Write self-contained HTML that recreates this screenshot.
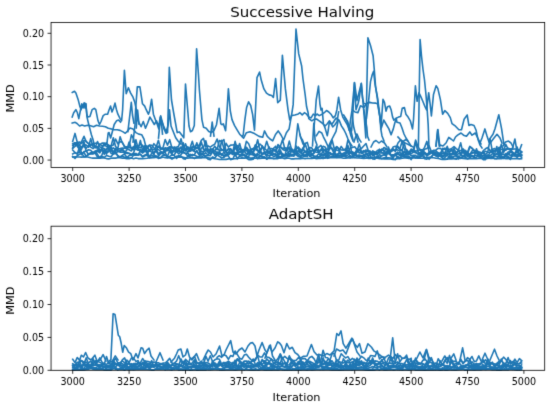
<!DOCTYPE html>
<html><head><meta charset="utf-8"><title>MMD plots</title>
<style>html,body{margin:0;padding:0;background:#fff;overflow:hidden}svg{display:block}
.ln{fill:none;stroke:#1f77b4;stroke-width:1.6;stroke-linejoin:round;stroke-linecap:square}</style></head>
<body><svg width="550" height="407" viewBox="0 0 550 407" font-family="DejaVu Sans, Liberation Sans, sans-serif"><defs><filter id="bl" x="0" y="0" width="550" height="407" filterUnits="userSpaceOnUse" color-interpolation-filters="sRGB"><feConvolveMatrix order="3" kernelMatrix="0.01134 0.08382 0.01134 0.08382 0.61935 0.08382 0.01134 0.08382 0.01134" divisor="1" edgeMode="duplicate"/></filter></defs><g filter="url(#bl)"><rect width="550" height="407" fill="#fff"/><polyline class="ln" points="72.3,92.5 74.5,91.3 75.9,93.0 78.1,99.4 80.0,106.8 81.1,109.7 81.8,103.8 83.0,108.0 84.0,103.1 85.0,108.0 85.9,103.8 87.0,117.1 88.4,123.0 89.9,128.9 91.4,134.8 92.9,139.2 94.3,145.1 96.0,148.0 98.0,147.0 100.0,150.0"/>
<polyline class="ln" points="72.2,117.1 73.7,112.7 75.9,109.7 77.3,112.5 78.8,118.6 80.5,110.0 81.8,104.5 83.3,107.0 84.5,103.0 85.8,104.0 86.8,114.0 87.7,117.1 89.9,116.4 92.1,109.7 94.3,108.3 95.8,109.7 98.0,120.8 99.5,124.5 101.0,121.5 103.2,115.6 105.4,114.2 107.6,114.2 109.1,109.7 110.6,106.1 112.0,112.0 113.5,108.3 115.0,103.1 116.5,109.7 117.9,114.2 120.1,118.6 121.6,120.8 122.6,110.0 124.4,70.4 126.2,93.8 128.4,87.7 130.5,92.9 133.0,97.2 134.8,102.3 136.2,109.0 137.4,118.6 138.8,122.3 141.1,126.7 143.3,121.5 145.5,128.2 147.7,123.0 149.9,117.1 152.0,120.5 154.3,124.5 156.5,120.8 158.8,126.7 160.2,117.1 162.0,122.0 163.9,126.7 166.1,131.9 168.3,124.5 169.5,109.7 171.0,126.0 173.0,131.0 175.7,137.8 178.0,141.0 181.0,144.0"/>
<polyline class="ln" points="72.2,123.0 75.2,122.3 77.0,123.5 79.6,126.0 82.0,125.0 84.7,126.0 87.7,125.2 90.5,125.8 93.6,126.7 96.5,125.2 99.5,126.0 102.5,126.3 105.4,126.7 108.3,128.2 111.3,128.9 114.2,129.7 117.2,129.7 120.1,130.4 123.1,131.9 125.3,133.3 127.5,131.1 130.0,128.0 133.0,128.9 135.9,132.6 138.8,134.1 141.8,134.8 144.0,139.2 145.5,145.1 147.5,147.0"/>
<polyline class="ln" points="104.0,146.0 106.9,143.7 108.2,133.0 109.1,132.6 110.6,138.0 112.0,133.0 114.2,124.5 116.5,120.8 118.7,120.1 120.5,122.0"/>
<polyline class="ln" points="133.0,142.0 135.0,125.0 135.6,109.2 137.3,86.9 139.9,86.9 142.5,103.8 144.7,106.1 146.2,109.7 148.4,114.2 149.6,111.0 151.6,99.2 153.4,114.2 155.8,120.8 157.3,124.5 158.8,128.9 161.0,117.1 162.4,122.3 163.9,128.9 166.1,133.3 167.6,132.6 169.3,67.2 171.5,100.0 173.5,112.0 175.3,122.0 177.2,132.6 179.4,131.9 181.6,134.8 183.8,137.8 185.5,84.0 187.7,110.0 189.0,126.0 190.5,131.8 192.4,130.5 194.3,125.5 196.6,48.8 198.5,75.0 199.4,90.0 201.9,119.6 203.6,127.3 206.2,128.2 208.8,131.6 211.3,132.5 213.9,130.7 216.5,124.7 219.1,108.4 220.8,123.9 222.2,124.7 223.4,123.9 225.6,130.7 226.8,114.4 228.4,88.8 230.3,111.0 232.0,119.6 234.6,125.6 237.1,129.9 239.7,134.2 242.3,136.8 243.2,135.0 244.9,119.6 246.6,107.5 248.6,101.8 250.7,105.5 252.6,114.4 254.5,130.2 257.0,77.7 259.6,72.1 261.3,80.3 263.9,88.9 266.5,93.2 269.1,94.9 271.7,95.5 273.4,97.5 275.6,78.6 277.7,102.7 280.3,100.1 282.4,55.4 285.4,88.9 288.0,109.6 289.7,119.9 291.4,116.4 293.2,104.4 296.0,29.0 298.7,53.9 301.6,65.7 303.0,79.0 305.2,95.0 306.6,106.8 308.1,112.7 308.8,118.6 311.8,120.8 314.0,119.3 316.5,119.0 319.2,120.8 322.1,123.0 325.1,126.0 327.3,123.8 329.5,120.8 331.7,124.5 333.5,122.0 336.0,118.0 339.3,120.5 341.4,125.9 343.6,129.2 345.8,133.5 348.0,139.0 350.0,143.0 352.0,146.0"/>
<polyline class="ln" points="242.3,136.8 243.6,138.2 246.4,132.7 250.0,131.8 254.5,133.6 259.1,136.4 262.7,137.3 264.5,130.9 267.3,136.4 270.0,139.0 272.7,140.9 275.5,134.5 278.2,130.9 281.0,135.0 283.6,140.0 286.4,132.7 289.1,129.1 290.3,122.0 291.4,115.6 294.9,115.0 298.3,113.9 300.0,112.7 302.2,114.9 304.4,112.7 306.6,114.2 308.8,117.1 311.1,117.9 313.3,114.2 315.5,115.6 317.0,114.0 319.2,115.6 322.1,114.2 324.3,112.7 326.5,110.5 328.8,112.0 331.0,114.2 333.2,117.9 335.4,115.6 336.9,109.7 338.6,97.2 340.6,109.7 342.8,117.1 345.0,120.8 347.2,124.5 349.4,130.4 351.6,131.1 353.1,109.7 354.4,82.7 356.0,109.7 358.0,103.8 359.0,100.0 361.3,83.6 362.5,98.0 363.8,103.5 366.8,103.8 369.7,102.4 372.5,103.0 375.6,103.1 377.6,103.9 379.3,112.0 381.0,127.0 383.0,99.4 384.5,102.4 386.0,111.2 387.4,106.8 389.7,106.1 391.1,109.7 392.6,117.1 393.9,120.2 395.6,118.5 398.5,117.1 400.7,116.4 402.2,108.3 404.4,107.5 405.9,114.2 408.1,117.1 410.3,120.8 412.5,128.9 413.5,120.0 415.4,85.8 417.1,101.3 418.9,92.7 420.6,96.1 422.8,101.3 424.9,106.4 426.6,109.9 428.7,92.7 430.0,103.0 431.4,115.9 433.5,94.4 436.1,85.8 437.8,88.4 440.4,99.6 442.6,114.2 444.8,110.7 447.7,113.3 450.3,117.6 452.0,123.6 455.5,126.2 458.9,129.7 461.5,129.7 464.1,119.3 467.2,115.0 468.9,125.4 471.0,124.5 474.0,125.5 476.1,130.3 478.1,139.7 480.0,145.0 482.0,148.0"/>
<polyline class="ln" points="314.0,128.0 315.5,110.0 316.2,100.0 318.5,86.1 319.9,103.8 321.0,110.0 322.1,108.3 323.4,123.7 325.1,128.1 327.3,135.7 328.3,130.0 329.4,121.5 331.1,123.7 332.7,127.0 334.9,124.8 337.1,121.5 338.6,112.0"/>
<polyline class="ln" points="316.4,135.7 319.1,131.4 321.8,133.0 323.4,136.8 325.6,141.2 327.8,146.0"/>
<polyline class="ln" points="327.8,148.0 331.0,141.0 336.0,131.4 338.2,120.5"/>
<polyline class="ln" points="343.6,115.0 346.0,119.0 348.0,123.7 350.2,128.1 351.5,133.0 353.0,140.0"/>
<polyline class="ln" points="352.3,115.0 353.5,126.0 355.6,134.6 357.0,134.0 359.0,139.0 361.0,142.0"/>
<polyline class="ln" points="300.0,134.6 301.6,140.1 303.0,144.0 305.0,146.0"/>
<polyline class="ln" points="345.0,117.8 347.6,121.2 349.3,129.8 351.0,136.0 353.0,141.0"/>
<polyline class="ln" points="352.7,110.0 355.0,112.0 357.9,112.6 360.5,105.8 363.9,107.5 366.0,104.0 369.0,102.3"/>
<polyline class="ln" points="354.0,142.0 356.2,135.0 358.0,142.0"/>
<polyline class="ln" points="349.3,129.8 350.5,120.0 351.9,110.9 354.5,82.6 357.0,100.6 358.7,93.7 361.3,83.4 363.0,102.3 364.5,120.0 365.8,138.0 367.9,37.7 370.5,45.5 373.1,55.8 374.3,69.6 375.6,86.8 377.4,98.8 378.6,109.7 380.1,118.6 380.8,128.9 382.0,136.0 384.0,141.0"/>
<polyline class="ln" points="363.8,109.7 365.3,118.6 366.8,127.4 367.5,136.3 369.0,140.0"/>
<polyline class="ln" points="366.5,118.0 368.8,98.8 370.5,81.6 372.2,74.7 373.6,71.3 375.0,84.1 377.6,97.8 379.3,111.6 381.0,125.4"/>
<polyline class="ln" points="380.8,128.9 381.5,127.4 383.8,120.1 386.0,124.0 388.9,128.9 391.1,134.8 393.3,128.9 394.8,123.0 396.3,118.6 397.0,122.3 400.0,123.0 402.0,128.0 404.0,134.0 406.0,138.0 408.0,141.0"/>
<polyline class="ln" points="418.4,147.0 419.1,100.0 420.1,39.5 421.5,56.0 423.0,69.5 424.5,80.0 426.0,95.0 427.2,110.0 428.2,125.0 429.0,148.0"/>
<polyline class="ln" points="436.0,146.0 437.6,129.8 439.2,146.0"/>
<polyline class="ln" points="371.0,147.0 373.6,142.0 376.0,140.5 379.0,143.0 381.5,141.0 384.5,143.0 387.0,147.0"/>
<polyline class="ln" points="396.0,148.0 398.0,143.0 400.5,140.0 403.0,141.5 406.0,139.5 408.5,142.0 411.0,146.0"/>
<polyline class="ln" points="440.0,145.0 443.0,146.0 446.0,143.0 448.8,137.4 451.0,139.0 453.5,141.0 455.5,137.0 457.6,135.2 461.0,133.0 463.5,135.2 466.5,136.3 469.8,131.9 472.0,135.2 475.3,133.0 478.6,140.0 481.0,144.0"/>
<polyline class="ln" points="398.0,137.0 400.0,139.1 402.5,141.6 405.1,142.9 410.2,145.5 413.0,147.0"/>
<polyline class="ln" points="436.0,146.0 437.9,129.5 439.8,146.0"/>
<polyline class="ln" points="489.0,140.0 493.0,134.3 495.0,128.8 498.8,114.7 501.6,128.8 503.8,143.8 506.0,146.0"/>
<polyline class="ln" points="491.0,142.0 494.0,138.0 497.0,134.3 500.0,138.0 502.0,143.0"/>
<polyline class="ln" points="480.0,143.0 482.0,138.0 484.9,128.9 487.0,136.0 489.0,142.0"/>
<polyline class="ln" points="503.0,146.0 505.5,142.0 508.5,141.1 511.0,143.0 513.0,147.0"/>
<polyline class="ln" points="127.9,131.6 129.5,118.0 131.3,102.3 132.5,115.0 133.9,123.0"/>
<polyline class="ln" points="136.3,128.0 137.6,110.0 139.0,124.0"/>
<polyline class="ln" points="158.5,138.0 160.7,115.9 162.5,134.0"/>
<polyline class="ln" points="210.5,136.0 212.2,122.1 214.0,136.0"/>
<polyline class="ln" points="295.5,146.5 297.8,123.9 300.5,137.2 302.5,139.9 304.0,144.0"/>
<polyline class="ln" points="312.5,146.0 313.8,123.3 315.1,139.9 317.0,145.0"/>
<polyline class="ln" points="72.7,157.0 75.0,156.7 77.2,156.9 79.5,157.0 81.7,157.1 84.0,156.9 86.2,156.8 88.5,157.2 90.7,157.7 93.0,158.1 95.3,158.1 97.5,158.1 99.8,158.1 102.0,157.9 104.3,158.0 106.5,158.6 108.8,158.9 111.1,158.3 113.3,158.1 115.6,158.1 117.8,157.7 120.1,157.8 122.3,158.1 124.6,158.1 126.8,158.6 129.1,158.8 131.4,158.0 133.6,158.7 135.9,158.0 138.1,158.6 140.4,158.5 142.6,158.6 144.9,158.5 147.1,158.2 149.4,157.7 151.7,157.5 153.9,157.7 156.2,157.2 158.4,157.5 160.7,157.6 162.9,157.1 165.2,157.8 167.5,157.9 169.7,157.8 172.0,157.7 174.2,157.5 176.5,157.0 178.7,157.1 181.0,157.0 183.2,157.4 185.5,157.8 187.8,158.2 190.0,157.8 192.3,158.0 194.5,158.0 196.8,157.7 199.0,157.9 201.3,157.9 203.5,157.5 205.8,157.6 208.1,157.9 210.3,158.2 212.6,158.3 214.8,158.8 217.1,159.0 219.3,159.5 221.6,159.5 223.9,159.4 226.1,159.4 228.4,158.9 230.6,158.7 232.9,158.7 235.1,158.7 237.4,158.4 239.6,158.2 241.9,157.9 244.2,158.1 246.4,157.9 248.7,157.9 250.9,158.1 253.2,157.9 255.4,158.2 257.7,158.4 259.9,158.4 262.2,158.3 264.5,158.1 266.7,158.1 269.0,158.4 271.2,158.3 273.5,158.6 275.7,158.8 278.0,158.6 280.3,157.8 282.5,157.9 284.8,158.7 287.0,158.3 289.3,158.3 291.5,158.9 293.8,158.9 296.0,158.5 298.3,158.7 300.6,158.8 302.8,158.3 305.1,158.6 307.3,158.2 309.6,158.5 311.8,158.4 314.1,158.1 316.3,158.8 318.6,158.4 320.9,158.4 323.1,157.8 325.4,158.0 327.6,157.9 329.9,157.8 332.1,157.4 334.4,157.6 336.7,157.8 338.9,157.7 341.2,157.8 343.4,158.2 345.7,158.1 347.9,158.0 350.2,158.0 352.4,157.5 354.7,157.8 357.0,158.0 359.2,157.9 361.5,158.2 363.7,158.4 366.0,158.2 368.2,157.9 370.5,157.9 372.7,157.9 375.0,157.9 377.3,158.3 379.5,158.6 381.8,158.5 384.0,158.9 386.3,158.6 388.5,159.0 390.8,159.0 393.1,159.4 395.3,159.0 397.6,158.4 399.8,158.8 402.1,158.3 404.3,157.9 406.6,157.9 408.8,158.5 411.1,158.1 413.4,158.0 415.6,158.0 417.9,158.2 420.1,158.1 422.4,158.3 424.6,157.9 426.9,157.6 429.1,157.4 431.4,157.7 433.7,157.8 435.9,158.3 438.2,158.4 440.4,159.1 442.7,159.5 444.9,159.5 447.2,159.3 449.5,158.7 451.7,158.9 454.0,158.6 456.2,158.2 458.5,158.1 460.7,158.2 463.0,158.4 465.2,158.6 467.5,158.9 469.8,158.7 472.0,158.7 474.3,158.4 476.5,158.6 478.8,158.4 481.0,158.2 483.3,158.4 485.5,158.2 487.8,158.4 490.1,157.9 492.3,158.2 494.6,158.4 496.8,158.7 499.1,158.6 501.3,158.8 503.6,158.3 505.9,158.7 508.1,158.6 510.4,158.4 512.6,158.8 514.9,158.5 517.1,158.8 519.4,158.9 521.6,158.8"/>
<polyline class="ln" points="72.7,156.5 75.0,158.5 77.2,155.8 79.5,154.4 81.7,153.2 84.0,156.9 86.2,156.4 88.5,154.4 90.7,153.1 93.0,153.5 95.3,153.4 97.5,157.0 99.8,157.1 102.0,156.2 104.3,157.4 106.5,155.5 108.8,156.3 111.1,156.7 113.3,153.7 115.6,153.6 117.8,155.4 120.1,157.1 122.3,156.1 124.6,157.2 126.8,157.3 129.1,158.0 131.4,158.1 133.6,155.1 135.9,155.2 138.1,154.2 140.4,154.2 142.6,157.0 144.9,155.8 147.1,155.3 149.4,157.9 151.7,157.5 153.9,156.5 156.2,156.0 158.4,158.5 160.7,157.7 162.9,155.0 165.2,155.4 167.5,156.1 169.7,157.6 172.0,159.1 174.2,157.9 176.5,156.2 178.7,155.8 181.0,156.0 183.2,158.6 185.5,159.1 187.8,156.3 190.0,157.2 192.3,157.3 194.5,158.6 196.8,157.6 199.0,156.9 201.3,157.1 203.5,155.6 205.8,156.8 208.1,159.2 210.3,159.7 212.6,156.9 214.8,158.0 217.1,154.9 219.3,156.2 221.6,158.1 223.9,157.5 226.1,155.5 228.4,156.1 230.6,159.7 232.9,159.1 235.1,153.7 237.4,158.8 239.6,156.1 241.9,155.9 244.2,155.3 246.4,158.0 248.7,159.7 250.9,159.7 253.2,159.2 255.4,155.7 257.7,158.7 259.9,156.7 262.2,156.5 264.5,156.8 266.7,159.1 269.0,157.7 271.2,158.0 273.5,158.4 275.7,158.3 278.0,157.0 280.3,158.0 282.5,156.5 284.8,157.0 287.0,157.1 289.3,156.3 291.5,155.8 293.8,156.2 296.0,152.9 298.3,153.4 300.6,155.5 302.8,154.9 305.1,156.5 307.3,153.6 309.6,155.6 311.8,157.6 314.1,157.2 316.3,157.0 318.6,156.9 320.9,156.8 323.1,158.6 325.4,157.7 327.6,156.4 329.9,157.3 332.1,156.8 334.4,154.5 336.7,157.4 338.9,156.9 341.2,157.1 343.4,156.2 345.7,153.5 347.9,150.1 350.2,157.7 352.4,156.9 354.7,157.4 357.0,156.4 359.2,156.2 361.5,156.2 363.7,157.4 366.0,156.5 368.2,158.5 370.5,158.5 372.7,157.2 375.0,157.4 377.3,156.6 379.5,157.4 381.8,158.7 384.0,157.8 386.3,157.8 388.5,157.7 390.8,158.0 393.1,159.3 395.3,159.7 397.6,156.4 399.8,158.4 402.1,156.5 404.3,156.5 406.6,157.7 408.8,157.7 411.1,157.4 413.4,157.0 415.6,157.4 417.9,157.5 420.1,157.1 422.4,155.6 424.6,158.7 426.9,159.2 429.1,157.7 431.4,157.0 433.7,153.8 435.9,155.8 438.2,155.6 440.4,156.1 442.7,158.4 444.9,159.0 447.2,158.9 449.5,156.3 451.7,156.2 454.0,158.5 456.2,159.2 458.5,158.3 460.7,158.5 463.0,156.5 465.2,157.2 467.5,158.7 469.8,157.5 472.0,156.2 474.3,157.5 476.5,157.2 478.8,155.4 481.0,157.7 483.3,159.7 485.5,159.7 487.8,155.5 490.1,157.7 492.3,157.3 494.6,158.7 496.8,158.6 499.1,154.8 501.3,156.8 503.6,158.3 505.9,155.5 508.1,156.3 510.4,158.3 512.6,155.9 514.9,156.0 517.1,156.3 519.4,155.8 521.6,155.1"/>
<polyline class="ln" points="72.7,150.0 75.0,152.5 77.2,153.6 79.5,151.9 81.7,154.7 84.0,151.6 86.2,150.9 88.5,154.5 90.7,153.9 93.0,154.0 95.3,151.0 97.5,154.5 99.8,158.2 102.0,154.6 104.3,149.1 106.5,154.1 108.8,148.5 111.1,153.4 113.3,153.8 115.6,151.3 117.8,156.5 120.1,156.8 122.3,155.3 124.6,154.1 126.8,157.3 129.1,155.7 131.4,154.9 133.6,154.6 135.9,153.4 138.1,155.3 140.4,154.2 142.6,156.5 144.9,154.9 147.1,154.1 149.4,156.1 151.7,155.8 153.9,154.7 156.2,156.4 158.4,156.2 160.7,153.8 162.9,153.1 165.2,152.5 167.5,157.4 169.7,156.4 172.0,155.0 174.2,155.5 176.5,158.4 178.7,156.5 181.0,154.5 183.2,152.0 185.5,153.7 187.8,155.9 190.0,154.3 192.3,155.5 194.5,154.6 196.8,150.4 199.0,154.9 201.3,154.7 203.5,154.1 205.8,152.7 208.1,155.3 210.3,155.6 212.6,151.8 214.8,153.8 217.1,153.1 219.3,152.3 221.6,155.6 223.9,151.9 226.1,155.7 228.4,154.8 230.6,151.9 232.9,153.4 235.1,153.9 237.4,154.3 239.6,154.7 241.9,154.9 244.2,155.0 246.4,155.9 248.7,151.8 250.9,154.7 253.2,153.9 255.4,155.8 257.7,154.6 259.9,155.3 262.2,157.2 264.5,157.0 266.7,159.0 269.0,157.5 271.2,153.9 273.5,156.6 275.7,155.8 278.0,156.7 280.3,152.5 282.5,153.7 284.8,155.2 287.0,155.7 289.3,153.8 291.5,155.5 293.8,154.4 296.0,154.6 298.3,156.7 300.6,157.1 302.8,157.0 305.1,155.1 307.3,153.2 309.6,156.4 311.8,155.1 314.1,156.0 316.3,156.3 318.6,157.5 320.9,155.0 323.1,156.2 325.4,153.2 327.6,158.3 329.9,157.2 332.1,156.9 334.4,156.3 336.7,156.7 338.9,155.0 341.2,156.0 343.4,155.0 345.7,156.9 347.9,157.2 350.2,155.6 352.4,157.5 354.7,155.1 357.0,155.3 359.2,155.1 361.5,155.5 363.7,155.6 366.0,154.3 368.2,155.3 370.5,156.2 372.7,159.0 375.0,159.1 377.3,156.3 379.5,157.5 381.8,155.5 384.0,155.0 386.3,153.4 388.5,148.3 390.8,155.4 393.1,156.2 395.3,154.8 397.6,157.3 399.8,158.1 402.1,154.6 404.3,156.1 406.6,156.1 408.8,156.0 411.1,159.7 413.4,156.0 415.6,157.9 417.9,155.8 420.1,156.6 422.4,149.9 424.6,158.1 426.9,157.1 429.1,159.3 431.4,156.6 433.7,154.3 435.9,155.9 438.2,157.1 440.4,153.6 442.7,156.5 444.9,157.3 447.2,155.1 449.5,157.8 451.7,157.9 454.0,156.3 456.2,155.7 458.5,153.5 460.7,154.2 463.0,156.4 465.2,154.7 467.5,155.4 469.8,155.8 472.0,156.6 474.3,155.9 476.5,155.2 478.8,156.4 481.0,155.7 483.3,157.1 485.5,157.0 487.8,157.5 490.1,158.4 492.3,158.4 494.6,155.8 496.8,156.6 499.1,156.2 501.3,158.2 503.6,156.8 505.9,156.9 508.1,157.4 510.4,159.4 512.6,153.3 514.9,155.7 517.1,157.4 519.4,155.3 521.6,154.9"/>
<polyline class="ln" points="72.7,154.0 75.0,152.7 77.2,154.2 79.5,146.9 81.7,153.3 84.0,152.5 86.2,156.4 88.5,154.4 90.7,152.7 93.0,152.0 95.3,153.2 97.5,151.2 99.8,152.8 102.0,148.7 104.3,154.4 106.5,151.2 108.8,151.9 111.1,147.1 113.3,153.5 115.6,153.1 117.8,151.5 120.1,151.5 122.3,149.4 124.6,153.6 126.8,152.6 129.1,153.3 131.4,154.4 133.6,153.1 135.9,155.0 138.1,154.6 140.4,151.0 142.6,152.9 144.9,151.3 147.1,151.4 149.4,157.0 151.7,153.4 153.9,152.3 156.2,151.2 158.4,155.1 160.7,151.8 162.9,153.7 165.2,155.2 167.5,156.2 169.7,150.6 172.0,154.8 174.2,155.0 176.5,151.2 178.7,154.0 181.0,152.0 183.2,152.8 185.5,153.3 187.8,152.9 190.0,156.2 192.3,154.4 194.5,155.2 196.8,156.2 199.0,157.0 201.3,153.2 203.5,154.7 205.8,155.8 208.1,155.6 210.3,150.5 212.6,149.1 214.8,155.3 217.1,153.8 219.3,154.3 221.6,153.7 223.9,155.7 226.1,154.5 228.4,152.7 230.6,148.7 232.9,152.6 235.1,155.9 237.4,151.6 239.6,155.3 241.9,153.9 244.2,154.2 246.4,156.6 248.7,156.8 250.9,148.7 253.2,155.6 255.4,155.0 257.7,156.0 259.9,156.3 262.2,154.5 264.5,153.4 266.7,156.2 269.0,155.3 271.2,155.2 273.5,148.4 275.7,146.2 278.0,156.7 280.3,156.8 282.5,155.3 284.8,155.5 287.0,148.1 289.3,154.9 291.5,154.4 293.8,154.6 296.0,150.4 298.3,155.5 300.6,156.7 302.8,154.0 305.1,155.5 307.3,156.5 309.6,149.4 311.8,154.9 314.1,156.2 316.3,156.8 318.6,153.8 320.9,155.7 323.1,150.4 325.4,156.9 327.6,156.7 329.9,154.8 332.1,154.4 334.4,153.4 336.7,155.9 338.9,152.9 341.2,153.8 343.4,154.9 345.7,156.3 347.9,154.8 350.2,153.0 352.4,152.4 354.7,152.7 357.0,156.1 359.2,155.5 361.5,156.8 363.7,157.6 366.0,153.7 368.2,156.5 370.5,153.8 372.7,152.7 375.0,157.6 377.3,158.0 379.5,154.6 381.8,155.9 384.0,154.6 386.3,156.5 388.5,147.1 390.8,155.5 393.1,158.5 395.3,153.4 397.6,153.7 399.8,155.5 402.1,154.9 404.3,151.7 406.6,153.7 408.8,152.8 411.1,155.8 413.4,155.4 415.6,155.2 417.9,158.1 420.1,155.8 422.4,154.5 424.6,153.3 426.9,155.7 429.1,152.1 431.4,153.1 433.7,153.6 435.9,155.1 438.2,155.6 440.4,156.0 442.7,156.7 444.9,153.8 447.2,146.2 449.5,153.2 451.7,153.9 454.0,153.6 456.2,156.3 458.5,156.0 460.7,158.2 463.0,155.9 465.2,156.2 467.5,155.4 469.8,156.8 472.0,155.5 474.3,156.4 476.5,148.7 478.8,156.9 481.0,155.5 483.3,155.5 485.5,156.3 487.8,154.9 490.1,155.9 492.3,153.7 494.6,153.9 496.8,146.5 499.1,157.3 501.3,155.8 503.6,157.1 505.9,153.5 508.1,154.7 510.4,152.2 512.6,152.7 514.9,153.9 517.1,151.4 519.4,155.6 521.6,155.8"/>
<polyline class="ln" points="72.7,148.4 75.0,146.5 77.2,143.2 79.5,151.4 81.7,149.0 84.0,142.0 86.2,151.5 88.5,149.7 90.7,150.3 93.0,153.1 95.3,151.1 97.5,149.9 99.8,152.0 102.0,150.1 104.3,152.3 106.5,149.4 108.8,147.6 111.1,148.7 113.3,153.9 115.6,150.0 117.8,149.9 120.1,150.2 122.3,149.0 124.6,151.6 126.8,153.4 129.1,153.5 131.4,155.2 133.6,152.7 135.9,146.9 138.1,149.3 140.4,151.4 142.6,152.8 144.9,149.3 147.1,153.4 149.4,150.8 151.7,152.1 153.9,153.7 156.2,149.1 158.4,153.5 160.7,152.6 162.9,152.9 165.2,150.4 167.5,150.5 169.7,146.9 172.0,153.9 174.2,147.1 176.5,151.7 178.7,151.7 181.0,152.1 183.2,142.7 185.5,151.0 187.8,146.8 190.0,150.8 192.3,149.0 194.5,150.6 196.8,142.8 199.0,150.1 201.3,155.0 203.5,152.2 205.8,148.0 208.1,152.6 210.3,153.5 212.6,151.2 214.8,154.2 217.1,152.1 219.3,152.4 221.6,154.4 223.9,156.3 226.1,154.5 228.4,154.9 230.6,153.0 232.9,154.5 235.1,146.3 237.4,150.0 239.6,151.6 241.9,150.9 244.2,151.0 246.4,154.0 248.7,152.1 250.9,150.5 253.2,152.5 255.4,154.8 257.7,153.3 259.9,150.9 262.2,153.6 264.5,152.6 266.7,154.8 269.0,152.6 271.2,154.7 273.5,154.2 275.7,153.9 278.0,155.1 280.3,153.2 282.5,155.7 284.8,155.9 287.0,154.7 289.3,155.6 291.5,150.0 293.8,152.5 296.0,154.2 298.3,151.2 300.6,152.5 302.8,148.0 305.1,152.0 307.3,150.7 309.6,154.1 311.8,155.4 314.1,153.1 316.3,145.9 318.6,150.0 320.9,155.2 323.1,154.3 325.4,155.0 327.6,155.2 329.9,145.0 332.1,149.5 334.4,154.1 336.7,154.8 338.9,155.5 341.2,155.2 343.4,156.3 345.7,155.8 347.9,145.4 350.2,153.1 352.4,153.5 354.7,154.9 357.0,152.2 359.2,149.7 361.5,152.3 363.7,154.5 366.0,154.1 368.2,153.6 370.5,154.9 372.7,151.5 375.0,152.1 377.3,152.7 379.5,153.0 381.8,152.8 384.0,153.3 386.3,154.2 388.5,153.5 390.8,155.2 393.1,154.7 395.3,154.5 397.6,152.0 399.8,155.6 402.1,152.8 404.3,155.4 406.6,153.8 408.8,153.9 411.1,151.0 413.4,150.3 415.6,152.1 417.9,154.2 420.1,154.2 422.4,153.3 424.6,153.4 426.9,155.4 429.1,154.4 431.4,152.6 433.7,153.3 435.9,154.1 438.2,152.9 440.4,156.4 442.7,155.2 444.9,155.7 447.2,153.0 449.5,155.2 451.7,154.7 454.0,148.5 456.2,155.2 458.5,159.0 460.7,154.5 463.0,156.5 465.2,153.8 467.5,152.4 469.8,154.5 472.0,152.4 474.3,153.0 476.5,152.8 478.8,155.7 481.0,158.2 483.3,158.2 485.5,157.9 487.8,155.7 490.1,155.6 492.3,156.9 494.6,154.5 496.8,153.9 499.1,154.9 501.3,154.3 503.6,154.3 505.9,155.9 508.1,153.0 510.4,155.7 512.6,153.9 514.9,153.8 517.1,155.4 519.4,154.7 521.6,157.6"/>
<polyline class="ln" points="72.7,147.9 75.0,142.7 77.2,146.1 79.5,149.3 81.7,146.8 84.0,146.4 86.2,148.3 88.5,145.5 90.7,147.2 93.0,148.7 95.3,146.8 97.5,147.8 99.8,151.5 102.0,147.3 104.3,144.6 106.5,142.9 108.8,149.7 111.1,150.8 113.3,151.7 115.6,148.5 117.8,151.2 120.1,152.1 122.3,152.0 124.6,152.5 126.8,150.1 129.1,142.0 131.4,148.8 133.6,149.9 135.9,139.8 138.1,148.7 140.4,140.4 142.6,151.0 144.9,145.6 147.1,151.3 149.4,150.8 151.7,149.2 153.9,153.7 156.2,149.5 158.4,149.5 160.7,151.4 162.9,152.4 165.2,148.1 167.5,150.4 169.7,150.1 172.0,151.3 174.2,150.2 176.5,149.3 178.7,149.0 181.0,152.2 183.2,151.5 185.5,149.5 187.8,152.0 190.0,151.2 192.3,150.3 194.5,151.7 196.8,151.8 199.0,154.3 201.3,148.1 203.5,147.5 205.8,140.8 208.1,150.2 210.3,151.4 212.6,152.2 214.8,150.5 217.1,148.0 219.3,150.6 221.6,150.5 223.9,148.9 226.1,152.2 228.4,152.5 230.6,152.6 232.9,151.5 235.1,152.5 237.4,153.5 239.6,151.8 241.9,153.1 244.2,151.6 246.4,147.5 248.7,153.9 250.9,153.0 253.2,153.0 255.4,144.8 257.7,150.6 259.9,153.6 262.2,145.7 264.5,151.8 266.7,152.6 269.0,146.7 271.2,152.5 273.5,153.2 275.7,155.5 278.0,155.5 280.3,149.9 282.5,155.3 284.8,154.8 287.0,153.4 289.3,151.6 291.5,148.3 293.8,152.1 296.0,149.1 298.3,147.4 300.6,152.2 302.8,153.5 305.1,151.2 307.3,152.0 309.6,151.3 311.8,154.2 314.1,152.6 316.3,149.5 318.6,151.4 320.9,149.6 323.1,146.2 325.4,147.3 327.6,152.7 329.9,152.6 332.1,154.9 334.4,154.1 336.7,146.7 338.9,149.6 341.2,154.1 343.4,153.2 345.7,151.9 347.9,150.7 350.2,152.0 352.4,151.9 354.7,154.1 357.0,148.9 359.2,153.1 361.5,152.5 363.7,151.7 366.0,152.1 368.2,151.4 370.5,153.4 372.7,151.9 375.0,153.3 377.3,153.5 379.5,149.2 381.8,152.4 384.0,153.3 386.3,152.4 388.5,152.3 390.8,155.1 393.1,154.8 395.3,155.7 397.6,154.2 399.8,152.3 402.1,154.8 404.3,150.9 406.6,154.9 408.8,154.2 411.1,150.8 413.4,149.7 415.6,151.2 417.9,150.4 420.1,149.4 422.4,150.0 424.6,152.3 426.9,155.1 429.1,154.1 431.4,153.3 433.7,152.6 435.9,152.4 438.2,155.1 440.4,154.1 442.7,153.4 444.9,153.2 447.2,154.1 449.5,154.4 451.7,154.7 454.0,154.4 456.2,152.6 458.5,150.2 460.7,150.8 463.0,148.8 465.2,151.2 467.5,156.4 469.8,154.9 472.0,150.8 474.3,150.7 476.5,150.6 478.8,151.7 481.0,152.5 483.3,153.1 485.5,156.7 487.8,157.3 490.1,151.7 492.3,151.5 494.6,155.1 496.8,154.1 499.1,147.6 501.3,154.3 503.6,154.2 505.9,154.7 508.1,152.0 510.4,151.6 512.6,152.1 514.9,154.5 517.1,146.9 519.4,155.0 521.6,151.6"/>
<polyline class="ln" points="72.7,145.3 75.0,143.9 77.2,145.8 79.5,145.3 81.7,147.1 84.0,144.6 86.2,145.1 88.5,147.2 90.7,138.6 93.0,146.8 95.3,147.2 97.5,141.6 99.8,146.9 102.0,147.5 104.3,148.8 106.5,149.7 108.8,145.6 111.1,149.0 113.3,147.9 115.6,149.8 117.8,148.8 120.1,148.5 122.3,148.0 124.6,148.2 126.8,148.6 129.1,149.8 131.4,151.0 133.6,146.7 135.9,149.1 138.1,150.4 140.4,149.3 142.6,151.2 144.9,149.9 147.1,148.7 149.4,145.1 151.7,145.2 153.9,147.8 156.2,150.2 158.4,146.5 160.7,148.9 162.9,148.6 165.2,152.3 167.5,148.4 169.7,147.2 172.0,151.6 174.2,151.7 176.5,150.6 178.7,150.9 181.0,146.9 183.2,150.7 185.5,143.8 187.8,149.8 190.0,151.1 192.3,147.9 194.5,146.8 196.8,148.4 199.0,147.5 201.3,151.7 203.5,151.4 205.8,150.7 208.1,151.3 210.3,148.9 212.6,149.4 214.8,146.2 217.1,149.7 219.3,140.6 221.6,141.5 223.9,139.6 226.1,152.1 228.4,148.6 230.6,149.3 232.9,151.4 235.1,141.3 237.4,150.1 239.6,143.5 241.9,151.7 244.2,149.6 246.4,147.3 248.7,150.3 250.9,152.0 253.2,151.6 255.4,149.2 257.7,150.8 259.9,150.1 262.2,154.6 264.5,152.0 266.7,152.6 269.0,151.6 271.2,153.5 273.5,150.0 275.7,150.8 278.0,144.5 280.3,147.0 282.5,148.5 284.8,147.8 287.0,148.4 289.3,148.8 291.5,151.9 293.8,152.0 296.0,145.9 298.3,148.7 300.6,152.7 302.8,154.0 305.1,151.7 307.3,153.8 309.6,152.5 311.8,150.2 314.1,151.2 316.3,152.2 318.6,152.5 320.9,150.5 323.1,150.2 325.4,151.1 327.6,154.8 329.9,152.6 332.1,154.3 334.4,152.7 336.7,154.6 338.9,153.1 341.2,154.0 343.4,154.5 345.7,153.3 347.9,152.7 350.2,152.8 352.4,153.3 354.7,155.4 357.0,151.3 359.2,143.9 361.5,151.9 363.7,150.6 366.0,151.8 368.2,150.5 370.5,151.3 372.7,155.7 375.0,154.2 377.3,155.1 379.5,151.9 381.8,149.2 384.0,151.4 386.3,152.3 388.5,151.2 390.8,151.9 393.1,150.4 395.3,149.7 397.6,149.9 399.8,151.1 402.1,150.4 404.3,155.8 406.6,151.1 408.8,153.2 411.1,153.8 413.4,151.9 415.6,152.8 417.9,153.2 420.1,152.9 422.4,154.7 424.6,152.7 426.9,154.0 429.1,153.1 431.4,151.5 433.7,151.8 435.9,153.4 438.2,153.9 440.4,153.6 442.7,148.3 444.9,149.5 447.2,150.0 449.5,151.5 451.7,149.4 454.0,152.8 456.2,154.1 458.5,150.4 460.7,153.9 463.0,151.4 465.2,154.6 467.5,154.0 469.8,154.4 472.0,153.4 474.3,152.2 476.5,151.7 478.8,153.9 481.0,154.0 483.3,152.9 485.5,151.2 487.8,152.3 490.1,152.5 492.3,152.2 494.6,151.1 496.8,149.9 499.1,152.8 501.3,144.3 503.6,152.4 505.9,148.7 508.1,149.2 510.4,148.8 512.6,152.4 514.9,153.6 517.1,154.7 519.4,153.4 521.6,152.5"/>
<polyline class="ln" points="72.7,141.4 75.0,133.4 77.2,142.0 79.5,145.0 81.7,141.4 84.0,136.3 86.2,141.9 88.5,143.6 90.7,144.6 93.0,143.8 95.3,143.2 97.5,143.1 99.8,144.2 102.0,145.8 104.3,144.3 106.5,146.8 108.8,146.2 111.1,145.9 113.3,137.8 115.6,146.7 117.8,148.7 120.1,136.7 122.3,142.9 124.6,146.3 126.8,147.6 129.1,147.8 131.4,147.9 133.6,147.1 135.9,145.5 138.1,147.8 140.4,147.6 142.6,146.2 144.9,148.2 147.1,146.6 149.4,145.3 151.7,148.9 153.9,149.7 156.2,147.1 158.4,140.2 160.7,149.3 162.9,149.3 165.2,147.8 167.5,148.2 169.7,146.7 172.0,147.1 174.2,147.9 176.5,148.4 178.7,148.1 181.0,148.2 183.2,149.6 185.5,148.7 187.8,148.2 190.0,147.9 192.3,141.3 194.5,149.3 196.8,147.5 199.0,149.2 201.3,142.1 203.5,149.4 205.8,149.9 208.1,149.4 210.3,150.0 212.6,149.6 214.8,150.8 217.1,152.9 219.3,154.2 221.6,140.2 223.9,148.5 226.1,150.7 228.4,149.4 230.6,149.6 232.9,151.3 235.1,147.9 237.4,151.2 239.6,149.1 241.9,150.9 244.2,149.3 246.4,151.0 248.7,150.0 250.9,149.7 253.2,148.4 255.4,148.3 257.7,139.7 259.9,150.5 262.2,147.1 264.5,148.7 266.7,150.4 269.0,151.5 271.2,150.6 273.5,150.2 275.7,150.4 278.0,147.2 280.3,146.4 282.5,139.8 284.8,148.8 287.0,150.7 289.3,147.0 291.5,151.2 293.8,150.2 296.0,151.5 298.3,150.8 300.6,152.4 302.8,149.0 305.1,143.6 307.3,150.4 309.6,147.6 311.8,147.9 314.1,152.0 316.3,149.8 318.6,152.1 320.9,149.8 323.1,148.8 325.4,150.6 327.6,152.0 329.9,148.5 332.1,148.1 334.4,151.4 336.7,149.9 338.9,151.1 341.2,146.4 343.4,149.5 345.7,150.5 347.9,140.0 350.2,144.7 352.4,156.4 354.7,152.8 357.0,151.8 359.2,149.4 361.5,153.3 363.7,151.8 366.0,150.0 368.2,151.2 370.5,151.8 372.7,155.4 375.0,153.7 377.3,150.5 379.5,149.8 381.8,150.2 384.0,147.5 386.3,148.7 388.5,151.0 390.8,150.0 393.1,148.7 395.3,151.5 397.6,146.0 399.8,149.2 402.1,150.2 404.3,142.7 406.6,153.4 408.8,153.5 411.1,151.0 413.4,152.4 415.6,142.1 417.9,151.4 420.1,153.8 422.4,150.4 424.6,147.4 426.9,141.4 429.1,152.0 431.4,151.6 433.7,150.7 435.9,150.9 438.2,152.8 440.4,153.0 442.7,151.8 444.9,152.7 447.2,151.8 449.5,152.1 451.7,150.8 454.0,149.1 456.2,152.8 458.5,151.0 460.7,153.3 463.0,150.1 465.2,152.6 467.5,154.3 469.8,146.9 472.0,148.3 474.3,150.3 476.5,153.1 478.8,152.5 481.0,153.0 483.3,151.9 485.5,154.8 487.8,152.2 490.1,138.9 492.3,150.8 494.6,150.7 496.8,148.9 499.1,153.2 501.3,154.1 503.6,149.7 505.9,150.1 508.1,148.2 510.4,149.1 512.6,148.3 514.9,139.0 517.1,151.9 519.4,150.1 521.6,152.1"/>
<polyline class="ln" points="72.7,143.8 75.0,142.8 77.2,142.6 79.5,142.0 81.7,143.5 84.0,140.6 86.2,141.3 88.5,143.7 90.7,145.6 93.0,144.0 95.3,146.9 97.5,146.8 99.8,144.6 102.0,143.1 104.3,143.1 106.5,143.7 108.8,145.2 111.1,145.9 113.3,144.9 115.6,139.0 117.8,143.8 120.1,141.7 122.3,142.0 124.6,147.2 126.8,146.7 129.1,146.7 131.4,134.8 133.6,138.9 135.9,146.5 138.1,146.9 140.4,143.9 142.6,145.5 144.9,149.0 147.1,146.6 149.4,150.5 151.7,148.0 153.9,143.7 156.2,146.5 158.4,146.2 160.7,147.9 162.9,148.1 165.2,139.5 167.5,145.1 169.7,139.7 172.0,148.2 174.2,147.4 176.5,147.3 178.7,146.1 181.0,138.8 183.2,147.2 185.5,148.7 187.8,147.3 190.0,149.4 192.3,146.6 194.5,146.7 196.8,144.5 199.0,146.1 201.3,140.3 203.5,138.4 205.8,146.8 208.1,145.9 210.3,147.1 212.6,145.4 214.8,144.2 217.1,139.1 219.3,146.4 221.6,149.3 223.9,151.2 226.1,143.3 228.4,147.1 230.6,145.1 232.9,145.0 235.1,144.6 237.4,145.8 239.6,148.4 241.9,149.4 244.2,150.7 246.4,141.3 248.7,143.7 250.9,149.7 253.2,149.6 255.4,145.5 257.7,147.1 259.9,144.0 262.2,146.1 264.5,149.0 266.7,141.3 269.0,148.3 271.2,148.6 273.5,149.1 275.7,151.9 278.0,152.2 280.3,146.6 282.5,149.2 284.8,150.5 287.0,149.9 289.3,141.1 291.5,149.2 293.8,151.0 296.0,149.6 298.3,147.2 300.6,149.6 302.8,151.1 305.1,143.4 307.3,142.4 309.6,150.7 311.8,151.1 314.1,149.6 316.3,148.5 318.6,147.3 320.9,145.4 323.1,149.9 325.4,149.3 327.6,149.3 329.9,147.7 332.1,140.0 334.4,149.3 336.7,146.5 338.9,148.5 341.2,150.0 343.4,150.1 345.7,148.6 347.9,153.1 350.2,148.2 352.4,147.5 354.7,146.8 357.0,149.8 359.2,149.6 361.5,148.4 363.7,146.0 366.0,143.5 368.2,150.5 370.5,154.8 372.7,150.9 375.0,152.2 377.3,153.3 379.5,151.6 381.8,149.3 384.0,150.5 386.3,149.6 388.5,149.7 390.8,151.6 393.1,147.0 395.3,146.3 397.6,147.4 399.8,149.0 402.1,141.4 404.3,149.1 406.6,149.5 408.8,152.4 411.1,149.1 413.4,149.9 415.6,140.1 417.9,146.5 420.1,150.4 422.4,152.3 424.6,149.2 426.9,148.5 429.1,145.9 431.4,151.9 433.7,150.2 435.9,150.1 438.2,148.2 440.4,148.4 442.7,150.3 444.9,148.1 447.2,149.2 449.5,149.4 451.7,148.5 454.0,146.6 456.2,148.7 458.5,150.1 460.7,142.8 463.0,153.4 465.2,150.4 467.5,152.3 469.8,146.4 472.0,148.2 474.3,151.1 476.5,152.6 478.8,153.8 481.0,155.3 483.3,150.7 485.5,148.8 487.8,147.5 490.1,150.7 492.3,149.5 494.6,148.5 496.8,151.1 499.1,147.3 501.3,149.5 503.6,149.7 505.9,144.6 508.1,149.1 510.4,150.2 512.6,149.1 514.9,149.0 517.1,149.0 519.4,150.7 521.6,144.8"/>
<polyline class="ln" points="108.0,362.0 110.9,359.6 113.1,313.8 115.0,314.6 116.8,325.6 118.3,335.2 119.7,336.7 121.2,343.3 122.7,352.2 124.2,345.6 126.4,347.8 128.6,352.2 130.8,353.7 133.0,360.0 136.0,353.7 138.0,358.0 141.1,347.8 142.7,348.2 144.5,353.6 147.0,350.0 149.1,348.2 151.0,356.0 154.0,360.0"/>
<polyline class="ln" points="112.0,362.0 115.3,355.9 118.0,360.0"/>
<polyline class="ln" points="79.0,362.0 81.3,355.2 83.5,357.0 85.6,352.5 88.0,358.0 91.0,360.0 94.9,355.2 97.0,361.0 100.0,360.0 103.1,354.6 106.0,361.0"/>
<polyline class="ln" points="156.0,362.0 160.0,352.7 163.0,360.0"/>
<polyline class="ln" points="171.0,362.0 174.5,358.2 176.5,354.0 178.2,350.0 180.9,349.0 183.0,357.0 185.5,355.0 187.3,349.0 189.5,357.0 192.0,360.0 196.4,353.6 199.0,360.0"/>
<polyline class="ln" points="203.0,360.0 206.0,354.0 208.2,350.0 210.5,352.0 213.0,357.0 216.0,354.0 219.6,346.1 222.0,356.0 224.0,355.0 226.0,350.0 228.0,346.0 230.7,340.7 233.0,352.0 236.0,354.0 239.0,350.0 242.0,348.0 245.0,352.0 248.0,346.0 250.5,343.0 252.6,342.6 255.0,346.0 257.0,356.0 259.0,350.0 262.1,342.6 265.0,350.0 267.0,352.7 269.5,345.5 272.0,352.0 275.0,348.0 277.7,341.8 279.5,343.0 281.4,345.5 284.0,352.7 286.8,343.6 289.5,349.0 292.3,347.3 295.0,352.7 297.7,354.5 300.5,358.2 303.2,356.4 307.0,356.0 311.4,344.5 314.1,351.8 317.0,355.0 319.5,354.5 323.0,356.0 326.8,353.6 330.0,355.0 334.1,350.9 336.8,333.6 338.8,335.5 341.0,330.9 343.2,343.6 345.9,348.2 348.5,344.0 351.9,338.2 355.0,344.5 357.3,347.3 359.5,343.6 362.0,353.2 365.0,352.0 367.9,343.7 371.5,347.3 373.8,350.8 377.4,353.2 381.0,356.0 385.0,358.0"/>
<polyline class="ln" points="334.0,356.0 336.5,349.0 340.0,351.0 343.0,350.0 346.0,354.0 350.2,342.6 352.6,339.0 354.9,346.1 357.0,352.0 360.0,356.0"/>
<polyline class="ln" points="265.0,358.0 268.0,350.0 270.4,345.0 272.5,356.0 275.0,360.0"/>
<polyline class="ln" points="390.0,360.0 392.7,337.8 395.0,360.0"/>
<polyline class="ln" points="416.0,360.0 419.9,352.0 423.0,358.0 426.3,349.6 429.0,360.0"/>
<polyline class="ln" points="424.0,360.0 426.6,349.6 429.0,358.0"/>
<polyline class="ln" points="460.0,360.0 462.6,347.8 465.0,360.0"/>
<polyline class="ln" points="450.0,360.0 453.8,353.9 456.0,360.0"/>
<polyline class="ln" points="490.0,360.0 494.5,349.2 497.0,356.0 499.0,360.0"/>
<polyline class="ln" points="482.0,360.0 485.0,353.2 488.0,360.0"/>
<polyline class="ln" points="442.0,361.0 444.8,356.0 447.0,360.0"/>
<polyline class="ln" points="72.7,369.9 75.0,369.7 77.2,369.9 79.5,369.9 81.7,369.9 84.0,369.9 86.2,369.5 88.5,369.2 90.7,368.6 93.0,369.2 95.3,369.4 97.5,369.5 99.8,369.5 102.0,369.3 104.3,369.9 106.5,369.6 108.8,369.9 111.1,369.9 113.3,368.6 115.6,369.2 117.8,369.5 120.1,369.3 122.3,369.5 124.6,369.9 126.8,369.1 129.1,369.6 131.4,369.3 133.6,369.7 135.9,369.2 138.1,369.2 140.4,369.2 142.6,369.2 144.9,369.3 147.1,369.3 149.4,369.4 151.7,369.7 153.9,369.5 156.2,369.0 158.4,369.1 160.7,369.1 162.9,368.8 165.2,369.3 167.5,369.4 169.7,369.2 172.0,368.6 174.2,368.5 176.5,369.0 178.7,369.6 181.0,369.3 183.2,369.2 185.5,369.7 187.8,369.4 190.0,369.9 192.3,369.9 194.5,369.4 196.8,369.9 199.0,369.8 201.3,369.9 203.5,369.7 205.8,369.9 208.1,369.0 210.3,369.1 212.6,369.4 214.8,368.9 217.1,369.0 219.3,368.8 221.6,369.9 223.9,369.9 226.1,369.6 228.4,369.7 230.6,369.8 232.9,369.7 235.1,369.8 237.4,369.8 239.6,369.2 241.9,369.5 244.2,369.5 246.4,369.5 248.7,369.8 250.9,369.9 253.2,369.9 255.4,369.9 257.7,369.5 259.9,369.4 262.2,369.5 264.5,369.9 266.7,369.9 269.0,369.5 271.2,369.9 273.5,369.6 275.7,369.8 278.0,369.9 280.3,369.4 282.5,369.3 284.8,369.5 287.0,369.9 289.3,369.9 291.5,369.8 293.8,369.3 296.0,369.4 298.3,369.6 300.6,369.9 302.8,369.8 305.1,369.7 307.3,369.6 309.6,369.4 311.8,369.9 314.1,369.7 316.3,369.5 318.6,369.2 320.9,369.2 323.1,369.7 325.4,369.4 327.6,369.2 329.9,369.6 332.1,369.9 334.4,369.9 336.7,369.9 338.9,369.9 341.2,369.9 343.4,369.5 345.7,369.6 347.9,369.6 350.2,369.7 352.4,369.9 354.7,369.2 357.0,369.5 359.2,369.5 361.5,369.5 363.7,369.5 366.0,369.9 368.2,369.9 370.5,369.9 372.7,369.9 375.0,369.4 377.3,369.5 379.5,369.6 381.8,369.3 384.0,369.9 386.3,369.9 388.5,369.8 390.8,369.8 393.1,369.5 395.3,369.3 397.6,369.8 399.8,369.4 402.1,369.2 404.3,369.5 406.6,369.7 408.8,369.9 411.1,369.8 413.4,369.0 415.6,369.9 417.9,369.9 420.1,369.6 422.4,369.9 424.6,369.9 426.9,369.9 429.1,369.9 431.4,369.9 433.7,369.9 435.9,369.3 438.2,369.9 440.4,369.9 442.7,369.4 444.9,369.7 447.2,369.6 449.5,369.2 451.7,369.7 454.0,369.9 456.2,369.9 458.5,369.5 460.7,369.4 463.0,368.9 465.2,369.5 467.5,369.7 469.8,369.7 472.0,369.7 474.3,369.9 476.5,369.6 478.8,369.6 481.0,369.8 483.3,369.0 485.5,369.5 487.8,369.3 490.1,369.2 492.3,369.7 494.6,369.6 496.8,369.5 499.1,369.6 501.3,369.6 503.6,369.4 505.9,369.8 508.1,369.3 510.4,369.2 512.6,369.1 514.9,369.7 517.1,369.8 519.4,369.9 521.6,369.8"/>
<polyline class="ln" points="72.7,369.4 75.0,369.7 77.2,368.8 79.5,369.3 81.7,368.4 84.0,369.1 86.2,368.4 88.5,366.1 90.7,367.9 93.0,367.4 95.3,368.0 97.5,369.3 99.8,367.9 102.0,368.5 104.3,367.1 106.5,369.4 108.8,369.0 111.1,369.8 113.3,366.3 115.6,368.7 117.8,369.2 120.1,369.1 122.3,367.7 124.6,369.9 126.8,367.6 129.1,367.8 131.4,368.9 133.6,368.1 135.9,368.7 138.1,368.9 140.4,368.5 142.6,368.0 144.9,368.4 147.1,365.2 149.4,368.3 151.7,369.8 153.9,369.9 156.2,368.6 158.4,368.6 160.7,369.3 162.9,368.8 165.2,369.9 167.5,368.4 169.7,369.5 172.0,369.9 174.2,368.5 176.5,368.9 178.7,368.8 181.0,369.2 183.2,369.4 185.5,369.6 187.8,368.1 190.0,369.9 192.3,367.5 194.5,365.6 196.8,369.9 199.0,369.5 201.3,368.3 203.5,368.9 205.8,368.6 208.1,369.6 210.3,369.4 212.6,367.9 214.8,368.6 217.1,366.6 219.3,369.9 221.6,369.6 223.9,369.0 226.1,367.2 228.4,367.7 230.6,369.1 232.9,369.3 235.1,369.6 237.4,369.3 239.6,366.5 241.9,368.7 244.2,369.9 246.4,368.2 248.7,366.8 250.9,368.4 253.2,369.5 255.4,368.7 257.7,369.9 259.9,369.6 262.2,367.7 264.5,368.7 266.7,369.4 269.0,369.6 271.2,369.5 273.5,369.1 275.7,369.5 278.0,368.9 280.3,368.7 282.5,369.7 284.8,369.2 287.0,369.5 289.3,368.8 291.5,369.9 293.8,369.5 296.0,369.9 298.3,369.2 300.6,369.4 302.8,365.9 305.1,369.3 307.3,369.9 309.6,368.7 311.8,368.5 314.1,368.6 316.3,369.3 318.6,369.5 320.9,369.7 323.1,368.1 325.4,367.6 327.6,367.5 329.9,368.3 332.1,367.9 334.4,369.3 336.7,368.2 338.9,369.8 341.2,369.5 343.4,369.3 345.7,368.7 347.9,368.0 350.2,368.1 352.4,369.0 354.7,367.7 357.0,368.7 359.2,369.1 361.5,369.1 363.7,369.5 366.0,369.2 368.2,369.7 370.5,369.9 372.7,369.9 375.0,369.9 377.3,368.8 379.5,369.9 381.8,368.2 384.0,369.1 386.3,368.4 388.5,369.1 390.8,368.6 393.1,369.9 395.3,369.6 397.6,369.0 399.8,368.0 402.1,369.9 404.3,369.5 406.6,369.0 408.8,369.1 411.1,368.7 413.4,368.6 415.6,367.9 417.9,368.0 420.1,368.9 422.4,369.3 424.6,369.9 426.9,369.4 429.1,367.9 431.4,368.8 433.7,369.1 435.9,369.9 438.2,368.7 440.4,369.8 442.7,368.3 444.9,369.9 447.2,369.9 449.5,369.5 451.7,369.4 454.0,368.8 456.2,369.2 458.5,368.6 460.7,369.3 463.0,367.1 465.2,367.5 467.5,367.7 469.8,367.7 472.0,368.2 474.3,368.3 476.5,368.6 478.8,368.7 481.0,367.6 483.3,368.2 485.5,368.1 487.8,369.0 490.1,368.0 492.3,368.7 494.6,367.2 496.8,369.9 499.1,369.8 501.3,367.4 503.6,367.9 505.9,369.4 508.1,369.2 510.4,366.8 512.6,369.4 514.9,368.7 517.1,369.9 519.4,368.8 521.6,368.3"/>
<polyline class="ln" points="72.7,369.3 75.0,368.5 77.2,368.7 79.5,364.7 81.7,367.1 84.0,369.2 86.2,368.4 88.5,368.5 90.7,367.0 93.0,368.0 95.3,367.8 97.5,368.9 99.8,368.0 102.0,368.6 104.3,367.2 106.5,366.3 108.8,366.8 111.1,367.3 113.3,368.7 115.6,367.1 117.8,369.9 120.1,368.0 122.3,367.1 124.6,367.7 126.8,364.9 129.1,368.7 131.4,367.8 133.6,366.7 135.9,368.4 138.1,368.3 140.4,368.5 142.6,368.8 144.9,369.3 147.1,366.4 149.4,368.4 151.7,366.6 153.9,366.4 156.2,366.7 158.4,369.1 160.7,367.3 162.9,367.7 165.2,367.4 167.5,365.9 169.7,366.4 172.0,368.5 174.2,369.4 176.5,366.1 178.7,367.4 181.0,366.2 183.2,367.6 185.5,367.1 187.8,367.6 190.0,367.2 192.3,367.2 194.5,367.2 196.8,368.9 199.0,367.3 201.3,368.5 203.5,367.2 205.8,366.6 208.1,368.0 210.3,369.7 212.6,369.0 214.8,368.7 217.1,369.5 219.3,369.1 221.6,369.0 223.9,367.5 226.1,366.5 228.4,366.0 230.6,368.1 232.9,368.3 235.1,367.6 237.4,369.0 239.6,368.8 241.9,366.3 244.2,367.2 246.4,366.2 248.7,366.9 250.9,365.2 253.2,367.6 255.4,366.6 257.7,366.6 259.9,369.2 262.2,367.8 264.5,367.2 266.7,368.5 269.0,368.2 271.2,368.2 273.5,368.3 275.7,366.8 278.0,368.0 280.3,369.0 282.5,369.3 284.8,369.9 287.0,368.8 289.3,369.1 291.5,367.8 293.8,369.1 296.0,368.5 298.3,368.3 300.6,367.8 302.8,368.1 305.1,369.3 307.3,368.7 309.6,368.4 311.8,365.7 314.1,368.3 316.3,368.0 318.6,367.2 320.9,365.9 323.1,366.5 325.4,366.9 327.6,368.4 329.9,368.1 332.1,369.3 334.4,368.2 336.7,368.5 338.9,367.5 341.2,367.8 343.4,366.1 345.7,366.7 347.9,366.3 350.2,367.1 352.4,368.1 354.7,367.0 357.0,368.3 359.2,368.0 361.5,367.5 363.7,368.2 366.0,368.6 368.2,368.1 370.5,367.6 372.7,366.6 375.0,367.2 377.3,367.6 379.5,366.3 381.8,368.6 384.0,368.9 386.3,368.0 388.5,369.2 390.8,367.0 393.1,367.6 395.3,366.5 397.6,368.6 399.8,369.8 402.1,369.2 404.3,366.3 406.6,367.8 408.8,368.2 411.1,366.1 413.4,368.6 415.6,368.2 417.9,366.4 420.1,367.5 422.4,368.5 424.6,367.4 426.9,363.1 429.1,367.4 431.4,368.7 433.7,367.7 435.9,366.8 438.2,368.5 440.4,369.5 442.7,367.7 444.9,369.1 447.2,367.6 449.5,366.4 451.7,367.4 454.0,366.8 456.2,367.5 458.5,368.5 460.7,366.0 463.0,368.9 465.2,369.9 467.5,369.4 469.8,367.3 472.0,367.7 474.3,364.3 476.5,366.3 478.8,369.1 481.0,368.8 483.3,368.3 485.5,367.8 487.8,368.7 490.1,368.3 492.3,367.8 494.6,368.5 496.8,368.8 499.1,367.1 501.3,369.0 503.6,364.9 505.9,367.7 508.1,369.9 510.4,368.8 512.6,368.5 514.9,367.6 517.1,367.1 519.4,367.5 521.6,367.7"/>
<polyline class="ln" points="72.7,367.2 75.0,368.0 77.2,367.3 79.5,365.9 81.7,368.4 84.0,361.6 86.2,366.7 88.5,367.3 90.7,366.2 93.0,368.0 95.3,369.1 97.5,366.4 99.8,366.7 102.0,366.0 104.3,366.4 106.5,366.3 108.8,367.3 111.1,366.0 113.3,366.3 115.6,363.6 117.8,365.1 120.1,366.7 122.3,369.0 124.6,366.1 126.8,367.2 129.1,366.7 131.4,366.8 133.6,365.8 135.9,368.0 138.1,367.1 140.4,363.7 142.6,368.4 144.9,366.9 147.1,363.9 149.4,368.3 151.7,366.8 153.9,367.2 156.2,365.3 158.4,366.3 160.7,366.0 162.9,368.5 165.2,366.1 167.5,364.9 169.7,366.5 172.0,368.8 174.2,368.5 176.5,368.8 178.7,369.8 181.0,369.4 183.2,369.9 185.5,368.4 187.8,367.9 190.0,366.3 192.3,366.5 194.5,367.1 196.8,366.5 199.0,366.1 201.3,362.3 203.5,367.2 205.8,366.9 208.1,365.5 210.3,368.2 212.6,362.9 214.8,366.5 217.1,367.9 219.3,364.1 221.6,366.0 223.9,367.7 226.1,366.8 228.4,365.9 230.6,367.7 232.9,366.2 235.1,368.0 237.4,368.5 239.6,367.9 241.9,365.3 244.2,366.3 246.4,367.1 248.7,367.5 250.9,366.3 253.2,366.6 255.4,366.2 257.7,365.4 259.9,366.6 262.2,368.6 264.5,367.5 266.7,369.2 269.0,368.6 271.2,368.9 273.5,365.7 275.7,367.3 278.0,368.8 280.3,366.8 282.5,365.7 284.8,367.3 287.0,366.5 289.3,366.9 291.5,366.2 293.8,365.0 296.0,367.3 298.3,367.3 300.6,367.7 302.8,368.0 305.1,367.3 307.3,366.4 309.6,366.6 311.8,368.4 314.1,366.4 316.3,367.4 318.6,366.3 320.9,366.2 323.1,368.1 325.4,369.0 327.6,369.2 329.9,369.0 332.1,366.5 334.4,365.5 336.7,366.5 338.9,365.8 341.2,365.5 343.4,368.7 345.7,362.1 347.9,366.6 350.2,366.7 352.4,366.5 354.7,363.4 357.0,368.2 359.2,367.3 361.5,366.7 363.7,367.8 366.0,367.0 368.2,369.9 370.5,369.9 372.7,368.6 375.0,365.5 377.3,365.0 379.5,362.2 381.8,366.0 384.0,367.5 386.3,367.9 388.5,365.5 390.8,366.7 393.1,367.2 395.3,366.7 397.6,366.3 399.8,366.9 402.1,368.8 404.3,363.0 406.6,367.9 408.8,368.7 411.1,365.2 413.4,369.3 415.6,365.2 417.9,368.1 420.1,366.5 422.4,366.5 424.6,367.1 426.9,367.1 429.1,365.8 431.4,366.6 433.7,367.1 435.9,368.3 438.2,367.1 440.4,369.9 442.7,369.6 444.9,366.9 447.2,365.6 449.5,366.5 451.7,368.1 454.0,366.2 456.2,367.5 458.5,368.1 460.7,367.6 463.0,366.8 465.2,366.6 467.5,365.2 469.8,366.3 472.0,366.4 474.3,367.1 476.5,367.1 478.8,367.7 481.0,366.1 483.3,366.1 485.5,367.5 487.8,366.1 490.1,366.9 492.3,368.6 494.6,366.6 496.8,368.2 499.1,369.9 501.3,369.9 503.6,365.4 505.9,367.8 508.1,366.2 510.4,365.2 512.6,368.0 514.9,367.9 517.1,367.6 519.4,368.9 521.6,367.2"/>
<polyline class="ln" points="72.7,366.1 75.0,364.6 77.2,364.1 79.5,365.3 81.7,368.5 84.0,368.6 86.2,365.0 88.5,366.0 90.7,365.0 93.0,366.0 95.3,364.8 97.5,366.0 99.8,368.0 102.0,369.2 104.3,366.3 106.5,368.1 108.8,366.9 111.1,364.2 113.3,365.2 115.6,366.6 117.8,365.0 120.1,365.2 122.3,365.9 124.6,364.0 126.8,368.2 129.1,367.7 131.4,363.6 133.6,366.2 135.9,366.0 138.1,366.8 140.4,365.5 142.6,362.3 144.9,366.2 147.1,364.6 149.4,365.2 151.7,360.7 153.9,366.4 156.2,364.8 158.4,366.1 160.7,367.0 162.9,367.2 165.2,366.5 167.5,367.3 169.7,367.4 172.0,367.4 174.2,368.6 176.5,367.6 178.7,366.3 181.0,365.8 183.2,367.4 185.5,365.6 187.8,366.5 190.0,367.3 192.3,367.1 194.5,365.4 196.8,367.6 199.0,368.3 201.3,365.6 203.5,364.9 205.8,365.4 208.1,365.1 210.3,366.3 212.6,366.3 214.8,365.0 217.1,366.0 219.3,364.9 221.6,364.9 223.9,362.3 226.1,365.6 228.4,365.5 230.6,366.7 232.9,367.5 235.1,364.9 237.4,365.7 239.6,367.2 241.9,366.4 244.2,363.0 246.4,366.0 248.7,365.4 250.9,367.7 253.2,365.5 255.4,365.5 257.7,365.3 259.9,362.3 262.2,364.4 264.5,361.7 266.7,366.9 269.0,367.9 271.2,366.1 273.5,368.2 275.7,367.1 278.0,366.5 280.3,366.2 282.5,366.5 284.8,367.0 287.0,366.7 289.3,367.1 291.5,366.6 293.8,365.1 296.0,365.2 298.3,362.8 300.6,364.9 302.8,367.2 305.1,367.1 307.3,366.2 309.6,366.9 311.8,367.9 314.1,365.9 316.3,366.4 318.6,366.3 320.9,366.5 323.1,368.4 325.4,366.4 327.6,366.2 329.9,364.1 332.1,365.4 334.4,364.9 336.7,364.1 338.9,367.2 341.2,368.8 343.4,369.8 345.7,367.4 347.9,366.7 350.2,367.4 352.4,367.8 354.7,366.6 357.0,360.1 359.2,365.0 361.5,363.0 363.7,365.9 366.0,367.1 368.2,366.5 370.5,365.1 372.7,361.7 375.0,365.1 377.3,366.3 379.5,366.9 381.8,364.9 384.0,367.4 386.3,363.8 388.5,366.5 390.8,365.4 393.1,365.3 395.3,367.0 397.6,363.4 399.8,363.6 402.1,366.5 404.3,364.3 406.6,359.5 408.8,364.8 411.1,359.2 413.4,366.5 415.6,366.5 417.9,366.5 420.1,367.9 422.4,365.4 424.6,369.4 426.9,366.5 429.1,367.0 431.4,366.3 433.7,365.8 435.9,365.9 438.2,366.8 440.4,366.7 442.7,364.9 444.9,366.4 447.2,367.7 449.5,366.0 451.7,361.5 454.0,367.0 456.2,367.9 458.5,369.4 460.7,368.9 463.0,365.7 465.2,365.3 467.5,364.6 469.8,365.2 472.0,365.0 474.3,367.2 476.5,365.6 478.8,367.4 481.0,367.4 483.3,367.0 485.5,367.4 487.8,362.7 490.1,367.1 492.3,366.9 494.6,367.8 496.8,364.1 499.1,366.1 501.3,366.0 503.6,364.2 505.9,365.5 508.1,366.4 510.4,367.4 512.6,367.0 514.9,361.7 517.1,368.6 519.4,366.5 521.6,364.9"/>
<polyline class="ln" points="72.7,365.4 75.0,367.2 77.2,366.5 79.5,366.9 81.7,366.6 84.0,363.5 86.2,364.9 88.5,365.1 90.7,365.7 93.0,364.7 95.3,365.4 97.5,364.5 99.8,364.7 102.0,365.8 104.3,366.9 106.5,366.9 108.8,367.5 111.1,368.5 113.3,363.7 115.6,364.0 117.8,365.0 120.1,364.0 122.3,363.7 124.6,365.5 126.8,360.1 129.1,362.4 131.4,358.1 133.6,358.1 135.9,361.4 138.1,360.6 140.4,368.1 142.6,367.9 144.9,361.9 147.1,367.2 149.4,367.2 151.7,366.2 153.9,366.1 156.2,363.1 158.4,369.1 160.7,367.8 162.9,366.6 165.2,364.8 167.5,362.3 169.7,365.0 172.0,365.2 174.2,365.5 176.5,366.2 178.7,367.4 181.0,364.8 183.2,361.6 185.5,360.4 187.8,367.1 190.0,366.6 192.3,367.3 194.5,361.3 196.8,365.8 199.0,365.0 201.3,366.5 203.5,363.7 205.8,364.8 208.1,366.5 210.3,366.0 212.6,365.4 214.8,362.9 217.1,364.8 219.3,363.9 221.6,364.9 223.9,363.5 226.1,365.0 228.4,362.8 230.6,365.1 232.9,364.4 235.1,360.2 237.4,366.9 239.6,365.7 241.9,364.3 244.2,366.9 246.4,363.8 248.7,363.6 250.9,363.3 253.2,364.6 255.4,366.5 257.7,365.9 259.9,363.1 262.2,366.4 264.5,365.5 266.7,364.8 269.0,362.9 271.2,366.3 273.5,363.4 275.7,364.1 278.0,365.4 280.3,364.0 282.5,366.5 284.8,366.3 287.0,365.3 289.3,364.8 291.5,361.5 293.8,365.1 296.0,364.8 298.3,367.3 300.6,367.0 302.8,361.8 305.1,365.0 307.3,364.1 309.6,365.8 311.8,366.6 314.1,366.3 316.3,367.4 318.6,365.7 320.9,364.5 323.1,357.8 325.4,365.0 327.6,365.1 329.9,362.3 332.1,366.4 334.4,367.6 336.7,366.2 338.9,361.4 341.2,365.2 343.4,366.4 345.7,364.8 347.9,366.9 350.2,363.9 352.4,366.4 354.7,366.2 357.0,365.4 359.2,362.6 361.5,363.9 363.7,363.8 366.0,364.1 368.2,363.3 370.5,363.2 372.7,357.9 375.0,365.5 377.3,364.2 379.5,362.4 381.8,365.9 384.0,367.3 386.3,362.9 388.5,367.7 390.8,366.0 393.1,366.2 395.3,365.6 397.6,364.5 399.8,367.2 402.1,367.4 404.3,366.1 406.6,367.2 408.8,366.0 411.1,366.8 413.4,366.0 415.6,364.5 417.9,367.2 420.1,366.9 422.4,368.0 424.6,366.1 426.9,366.5 429.1,361.7 431.4,362.8 433.7,364.3 435.9,366.8 438.2,366.2 440.4,360.9 442.7,365.0 444.9,366.2 447.2,365.6 449.5,369.2 451.7,366.7 454.0,366.3 456.2,365.2 458.5,368.0 460.7,367.2 463.0,367.2 465.2,365.3 467.5,365.4 469.8,366.7 472.0,367.7 474.3,366.6 476.5,365.0 478.8,366.5 481.0,368.6 483.3,365.6 485.5,366.1 487.8,363.6 490.1,365.5 492.3,362.1 494.6,366.2 496.8,367.8 499.1,365.9 501.3,366.5 503.6,363.5 505.9,366.7 508.1,364.7 510.4,366.4 512.6,365.2 514.9,364.8 517.1,365.5 519.4,365.4 521.6,367.1"/>
<polyline class="ln" points="72.7,363.8 75.0,365.1 77.2,365.7 79.5,361.8 81.7,365.9 84.0,365.4 86.2,365.9 88.5,362.9 90.7,361.2 93.0,364.6 95.3,360.6 97.5,364.9 99.8,365.4 102.0,364.6 104.3,364.7 106.5,366.1 108.8,365.4 111.1,365.2 113.3,360.2 115.6,363.8 117.8,365.1 120.1,364.7 122.3,366.5 124.6,365.1 126.8,364.0 129.1,363.7 131.4,365.8 133.6,365.1 135.9,364.9 138.1,362.3 140.4,365.0 142.6,363.7 144.9,365.4 147.1,365.9 149.4,366.6 151.7,364.8 153.9,366.8 156.2,363.3 158.4,366.0 160.7,363.9 162.9,365.0 165.2,368.1 167.5,367.6 169.7,364.8 172.0,368.5 174.2,366.8 176.5,363.9 178.7,364.3 181.0,365.3 183.2,365.5 185.5,359.3 187.8,361.6 190.0,363.1 192.3,365.4 194.5,364.7 196.8,367.0 199.0,365.9 201.3,366.8 203.5,363.8 205.8,362.6 208.1,363.0 210.3,364.5 212.6,365.5 214.8,364.9 217.1,365.4 219.3,365.9 221.6,363.9 223.9,363.0 226.1,362.4 228.4,364.1 230.6,364.5 232.9,365.2 235.1,365.8 237.4,367.4 239.6,362.5 241.9,363.9 244.2,363.8 246.4,363.5 248.7,361.1 250.9,363.7 253.2,364.5 255.4,365.7 257.7,362.5 259.9,363.6 262.2,365.0 264.5,366.8 266.7,365.0 269.0,363.3 271.2,363.6 273.5,366.0 275.7,364.9 278.0,363.8 280.3,363.2 282.5,364.5 284.8,363.2 287.0,367.0 289.3,366.7 291.5,363.6 293.8,363.7 296.0,365.1 298.3,364.9 300.6,359.7 302.8,363.5 305.1,365.8 307.3,363.2 309.6,361.2 311.8,362.5 314.1,363.8 316.3,365.5 318.6,366.8 320.9,365.8 323.1,363.3 325.4,364.3 327.6,359.6 329.9,359.8 332.1,365.5 334.4,366.1 336.7,365.2 338.9,366.3 341.2,366.6 343.4,366.4 345.7,364.5 347.9,366.3 350.2,365.5 352.4,364.9 354.7,359.2 357.0,365.5 359.2,365.7 361.5,363.9 363.7,366.3 366.0,366.5 368.2,364.9 370.5,361.7 372.7,360.3 375.0,362.8 377.3,364.4 379.5,363.6 381.8,359.7 384.0,364.2 386.3,364.5 388.5,363.3 390.8,363.1 393.1,364.1 395.3,366.4 397.6,368.1 399.8,365.1 402.1,366.4 404.3,364.7 406.6,364.9 408.8,364.9 411.1,364.7 413.4,364.2 415.6,358.0 417.9,364.6 420.1,363.8 422.4,363.4 424.6,365.0 426.9,362.1 429.1,368.4 431.4,365.2 433.7,364.5 435.9,365.4 438.2,364.5 440.4,364.8 442.7,364.3 444.9,365.5 447.2,368.6 449.5,365.8 451.7,359.7 454.0,365.3 456.2,365.5 458.5,362.4 460.7,364.9 463.0,366.5 465.2,365.7 467.5,365.0 469.8,359.3 472.0,364.9 474.3,365.2 476.5,364.2 478.8,363.9 481.0,363.0 483.3,365.1 485.5,365.2 487.8,358.9 490.1,362.7 492.3,363.0 494.6,365.8 496.8,365.1 499.1,365.3 501.3,359.1 503.6,364.4 505.9,364.2 508.1,364.3 510.4,360.5 512.6,364.8 514.9,364.0 517.1,363.9 519.4,363.6 521.6,362.9"/>
<polyline class="ln" points="72.7,365.2 75.0,364.9 77.2,362.2 79.5,362.8 81.7,360.6 84.0,362.6 86.2,362.0 88.5,365.4 90.7,365.7 93.0,358.5 95.3,364.0 97.5,361.6 99.8,362.3 102.0,363.7 104.3,363.6 106.5,364.4 108.8,363.0 111.1,364.5 113.3,362.5 115.6,364.4 117.8,362.9 120.1,365.2 122.3,359.8 124.6,357.9 126.8,363.8 129.1,362.5 131.4,365.9 133.6,363.5 135.9,365.1 138.1,362.5 140.4,362.8 142.6,358.5 144.9,361.9 147.1,363.2 149.4,363.9 151.7,364.2 153.9,366.0 156.2,364.2 158.4,364.9 160.7,363.5 162.9,363.7 165.2,365.3 167.5,363.4 169.7,367.2 172.0,364.6 174.2,363.7 176.5,363.9 178.7,365.6 181.0,358.9 183.2,363.5 185.5,364.4 187.8,365.5 190.0,358.7 192.3,358.3 194.5,356.4 196.8,362.4 199.0,363.7 201.3,363.1 203.5,362.2 205.8,364.4 208.1,365.6 210.3,367.6 212.6,361.1 214.8,365.5 217.1,365.6 219.3,361.5 221.6,365.8 223.9,365.7 226.1,364.7 228.4,362.5 230.6,365.8 232.9,362.4 235.1,364.6 237.4,359.2 239.6,361.9 241.9,362.2 244.2,364.9 246.4,363.2 248.7,363.9 250.9,362.5 253.2,360.5 255.4,358.8 257.7,356.1 259.9,364.5 262.2,359.4 264.5,363.7 266.7,358.8 269.0,361.4 271.2,365.9 273.5,363.8 275.7,361.9 278.0,362.7 280.3,362.6 282.5,357.5 284.8,361.9 287.0,363.8 289.3,356.8 291.5,359.4 293.8,361.3 296.0,363.9 298.3,364.1 300.6,363.1 302.8,364.3 305.1,362.7 307.3,360.2 309.6,363.7 311.8,365.7 314.1,364.3 316.3,362.2 318.6,354.3 320.9,364.1 323.1,364.9 325.4,361.5 327.6,365.6 329.9,365.3 332.1,363.2 334.4,364.3 336.7,362.9 338.9,364.7 341.2,366.4 343.4,358.6 345.7,362.8 347.9,360.1 350.2,362.5 352.4,362.9 354.7,363.8 357.0,363.3 359.2,360.8 361.5,362.5 363.7,362.3 366.0,363.3 368.2,363.9 370.5,360.7 372.7,363.1 375.0,363.7 377.3,363.9 379.5,363.9 381.8,363.4 384.0,362.4 386.3,363.5 388.5,364.3 390.8,359.1 393.1,363.4 395.3,363.3 397.6,361.8 399.8,363.2 402.1,363.5 404.3,365.6 406.6,364.7 408.8,364.7 411.1,366.2 413.4,364.7 415.6,359.6 417.9,362.3 420.1,363.3 422.4,363.9 424.6,364.8 426.9,364.5 429.1,357.4 431.4,359.2 433.7,363.2 435.9,363.1 438.2,364.2 440.4,365.1 442.7,365.2 444.9,360.2 447.2,363.2 449.5,355.4 451.7,362.5 454.0,364.5 456.2,363.1 458.5,363.7 460.7,359.0 463.0,363.8 465.2,361.3 467.5,360.3 469.8,363.9 472.0,361.8 474.3,364.5 476.5,363.4 478.8,365.6 481.0,363.7 483.3,359.9 485.5,364.2 487.8,363.3 490.1,363.5 492.3,363.5 494.6,363.9 496.8,364.1 499.1,363.1 501.3,360.8 503.6,363.3 505.9,363.3 508.1,357.5 510.4,364.0 512.6,361.6 514.9,364.3 517.1,363.5 519.4,363.8 521.6,361.2"/>
<polyline class="ln" points="72.7,359.3 75.0,362.6 77.2,357.6 79.5,359.9 81.7,360.7 84.0,364.0 86.2,357.7 88.5,363.8 90.7,366.2 93.0,362.0 95.3,361.5 97.5,361.9 99.8,357.8 102.0,362.1 104.3,364.1 106.5,356.5 108.8,363.4 111.1,361.4 113.3,361.1 115.6,358.5 117.8,362.8 120.1,362.7 122.3,360.8 124.6,362.6 126.8,364.3 129.1,363.8 131.4,365.7 133.6,363.7 135.9,363.4 138.1,365.2 140.4,365.1 142.6,364.3 144.9,360.8 147.1,361.4 149.4,361.9 151.7,362.7 153.9,361.9 156.2,362.8 158.4,362.7 160.7,364.5 162.9,363.1 165.2,363.0 167.5,360.9 169.7,358.4 172.0,363.2 174.2,363.4 176.5,361.2 178.7,355.7 181.0,361.8 183.2,362.8 185.5,363.1 187.8,363.5 190.0,364.5 192.3,363.0 194.5,359.8 196.8,363.2 199.0,362.8 201.3,361.1 203.5,365.0 205.8,356.0 208.1,361.2 210.3,355.8 212.6,361.8 214.8,359.8 217.1,358.7 219.3,359.2 221.6,364.1 223.9,362.7 226.1,363.0 228.4,361.0 230.6,362.8 232.9,363.4 235.1,362.4 237.4,358.8 239.6,360.0 241.9,364.4 244.2,361.0 246.4,361.1 248.7,361.7 250.9,362.3 253.2,359.0 255.4,364.5 257.7,364.4 259.9,365.2 262.2,360.5 264.5,360.7 266.7,363.1 269.0,362.6 271.2,358.8 273.5,363.1 275.7,362.7 278.0,361.7 280.3,354.3 282.5,363.2 284.8,363.1 287.0,364.9 289.3,355.9 291.5,361.4 293.8,363.3 296.0,364.7 298.3,361.6 300.6,361.3 302.8,365.8 305.1,366.0 307.3,360.9 309.6,362.1 311.8,365.0 314.1,365.0 316.3,366.6 318.6,358.8 320.9,365.6 323.1,359.8 325.4,362.1 327.6,363.2 329.9,361.4 332.1,360.9 334.4,364.4 336.7,359.7 338.9,361.8 341.2,362.2 343.4,363.0 345.7,361.1 347.9,362.8 350.2,362.9 352.4,361.7 354.7,364.8 357.0,358.0 359.2,364.3 361.5,360.8 363.7,366.0 366.0,365.6 368.2,358.0 370.5,364.4 372.7,363.3 375.0,360.9 377.3,361.2 379.5,362.9 381.8,360.8 384.0,358.3 386.3,364.0 388.5,358.0 390.8,356.4 393.1,361.2 395.3,362.5 397.6,353.8 399.8,361.9 402.1,358.5 404.3,358.1 406.6,355.2 408.8,363.2 411.1,364.1 413.4,360.9 415.6,363.4 417.9,363.1 420.1,364.4 422.4,361.1 424.6,358.4 426.9,361.4 429.1,362.8 431.4,357.7 433.7,365.5 435.9,366.2 438.2,358.7 440.4,362.2 442.7,365.1 444.9,360.7 447.2,357.5 449.5,362.9 451.7,360.6 454.0,361.4 456.2,361.1 458.5,364.4 460.7,359.9 463.0,362.6 465.2,361.3 467.5,357.6 469.8,359.5 472.0,356.5 474.3,361.7 476.5,360.9 478.8,355.9 481.0,361.0 483.3,362.4 485.5,359.9 487.8,361.8 490.1,362.6 492.3,363.5 494.6,366.5 496.8,363.3 499.1,361.3 501.3,360.3 503.6,357.1 505.9,359.5 508.1,362.9 510.4,361.9 512.6,362.6 514.9,359.1 517.1,362.6 519.4,358.6 521.6,360.5"/>
<polyline class="ln" points="217.1,357.4 219.3,355.7 221.6,357.3 223.9,354.8 226.1,355.8 228.4,359.3 230.6,355.6 232.9,356.4 235.1,351.0 237.4,354.7 239.6,358.2 241.9,359.2 244.2,355.1 246.4,354.3 248.7,357.2 250.9,359.6 253.2,361.2 255.4,360.4 257.7,355.2 259.9,356.9 262.2,357.0 264.5,352.9 266.7,357.0 269.0,357.5 271.2,359.1 273.5,360.4 275.7,361.3 278.0,358.6 280.3,353.9 282.5,358.5 284.8,356.4 287.0,358.4 289.3,358.9 291.5,360.6 293.8,360.6 296.0,360.5 298.3,357.7 300.6,359.6 302.8,358.6 305.1,358.5 307.3,361.3 309.6,357.4 311.8,356.4 314.1,358.9 316.3,362.9 318.6,362.7 320.9,360.1 323.1,350.2 325.4,357.5 327.6,357.8 329.9,360.3 332.1,353.7 334.4,353.5 336.7,361.2 338.9,359.8 341.2,353.8 343.4,356.0 345.7,357.9 347.9,356.6 350.2,360.4 352.4,358.4 354.7,360.4 357.0,359.5 359.2,359.5 361.5,356.3 363.7,357.8 366.0,360.2 368.2,360.3 370.5,355.6 372.7,355.8 375.0,356.5 377.3,350.9 379.5,359.0 381.8,356.8 384.0,357.6 386.3,356.7 388.5,355.1 390.8,356.9 393.1,358.4 395.3,354.5 397.6,357.6 399.8,355.6 402.1,358.3 404.3,358.3 406.6,357.4 408.8,359.7 411.1,358.3"/>
<line x1="47.55" y1="160.07" x2="51.05" y2="160.07" stroke="#000" stroke-width="0.8"/>
<text transform="translate(44.10,163.67) scale(0.96,1.0)" text-anchor="end" font-size="10" fill="#000">0.00</text>
<line x1="47.55" y1="128.38" x2="51.05" y2="128.38" stroke="#000" stroke-width="0.8"/>
<text transform="translate(44.10,131.98) scale(0.96,1.0)" text-anchor="end" font-size="10" fill="#000">0.05</text>
<line x1="47.55" y1="96.68" x2="51.05" y2="96.68" stroke="#000" stroke-width="0.8"/>
<text transform="translate(44.10,100.28) scale(0.96,1.0)" text-anchor="end" font-size="10" fill="#000">0.10</text>
<line x1="47.55" y1="64.99" x2="51.05" y2="64.99" stroke="#000" stroke-width="0.8"/>
<text transform="translate(44.10,68.59) scale(0.96,1.0)" text-anchor="end" font-size="10" fill="#000">0.15</text>
<line x1="47.55" y1="33.30" x2="51.05" y2="33.30" stroke="#000" stroke-width="0.8"/>
<text transform="translate(44.10,36.90) scale(0.96,1.0)" text-anchor="end" font-size="10" fill="#000">0.20</text>
<line x1="72.70" y1="167.45" x2="72.70" y2="170.95" stroke="#000" stroke-width="0.8"/>
<text transform="translate(72.70,181.80) scale(0.96,1.0)" text-anchor="middle" font-size="10" fill="#000">3000</text>
<line x1="129.10" y1="167.45" x2="129.10" y2="170.95" stroke="#000" stroke-width="0.8"/>
<text transform="translate(129.10,181.80) scale(0.96,1.0)" text-anchor="middle" font-size="10" fill="#000">3250</text>
<line x1="185.50" y1="167.45" x2="185.50" y2="170.95" stroke="#000" stroke-width="0.8"/>
<text transform="translate(185.50,181.80) scale(0.96,1.0)" text-anchor="middle" font-size="10" fill="#000">3500</text>
<line x1="241.90" y1="167.45" x2="241.90" y2="170.95" stroke="#000" stroke-width="0.8"/>
<text transform="translate(241.90,181.80) scale(0.96,1.0)" text-anchor="middle" font-size="10" fill="#000">3750</text>
<line x1="298.30" y1="167.45" x2="298.30" y2="170.95" stroke="#000" stroke-width="0.8"/>
<text transform="translate(298.30,181.80) scale(0.96,1.0)" text-anchor="middle" font-size="10" fill="#000">4000</text>
<line x1="354.70" y1="167.45" x2="354.70" y2="170.95" stroke="#000" stroke-width="0.8"/>
<text transform="translate(354.70,181.80) scale(0.96,1.0)" text-anchor="middle" font-size="10" fill="#000">4250</text>
<line x1="411.10" y1="167.45" x2="411.10" y2="170.95" stroke="#000" stroke-width="0.8"/>
<text transform="translate(411.10,181.80) scale(0.96,1.0)" text-anchor="middle" font-size="10" fill="#000">4500</text>
<line x1="467.50" y1="167.45" x2="467.50" y2="170.95" stroke="#000" stroke-width="0.8"/>
<text transform="translate(467.50,181.80) scale(0.96,1.0)" text-anchor="middle" font-size="10" fill="#000">4750</text>
<line x1="523.90" y1="167.45" x2="523.90" y2="170.95" stroke="#000" stroke-width="0.8"/>
<text transform="translate(523.90,181.80) scale(0.96,1.0)" text-anchor="middle" font-size="10" fill="#000">5000</text>
<text transform="translate(296.50,197.40)" text-anchor="middle" font-size="11.3" fill="#000">Iteration</text>
<text transform="translate(13.50,98.35) rotate(-90)" text-anchor="middle" font-size="11.3" fill="#000">MMD</text>
<text transform="translate(302.25,16.90) scale(1.0,0.95)" text-anchor="middle" font-size="15" fill="#000">Successive Halving</text>
<line x1="47.55" y1="370.30" x2="51.05" y2="370.30" stroke="#000" stroke-width="0.8"/>
<text transform="translate(44.10,373.90) scale(0.96,1.0)" text-anchor="end" font-size="10" fill="#000">0.00</text>
<line x1="47.55" y1="337.40" x2="51.05" y2="337.40" stroke="#000" stroke-width="0.8"/>
<text transform="translate(44.10,341.00) scale(0.96,1.0)" text-anchor="end" font-size="10" fill="#000">0.05</text>
<line x1="47.55" y1="304.50" x2="51.05" y2="304.50" stroke="#000" stroke-width="0.8"/>
<text transform="translate(44.10,308.10) scale(0.96,1.0)" text-anchor="end" font-size="10" fill="#000">0.10</text>
<line x1="47.55" y1="271.60" x2="51.05" y2="271.60" stroke="#000" stroke-width="0.8"/>
<text transform="translate(44.10,275.20) scale(0.96,1.0)" text-anchor="end" font-size="10" fill="#000">0.15</text>
<line x1="47.55" y1="238.70" x2="51.05" y2="238.70" stroke="#000" stroke-width="0.8"/>
<text transform="translate(44.10,242.30) scale(0.96,1.0)" text-anchor="end" font-size="10" fill="#000">0.20</text>
<line x1="72.70" y1="370.30" x2="72.70" y2="373.80" stroke="#000" stroke-width="0.8"/>
<text transform="translate(72.70,385.05) scale(0.96,1.0)" text-anchor="middle" font-size="10" fill="#000">3000</text>
<line x1="129.10" y1="370.30" x2="129.10" y2="373.80" stroke="#000" stroke-width="0.8"/>
<text transform="translate(129.10,385.05) scale(0.96,1.0)" text-anchor="middle" font-size="10" fill="#000">3250</text>
<line x1="185.50" y1="370.30" x2="185.50" y2="373.80" stroke="#000" stroke-width="0.8"/>
<text transform="translate(185.50,385.05) scale(0.96,1.0)" text-anchor="middle" font-size="10" fill="#000">3500</text>
<line x1="241.90" y1="370.30" x2="241.90" y2="373.80" stroke="#000" stroke-width="0.8"/>
<text transform="translate(241.90,385.05) scale(0.96,1.0)" text-anchor="middle" font-size="10" fill="#000">3750</text>
<line x1="298.30" y1="370.30" x2="298.30" y2="373.80" stroke="#000" stroke-width="0.8"/>
<text transform="translate(298.30,385.05) scale(0.96,1.0)" text-anchor="middle" font-size="10" fill="#000">4000</text>
<line x1="354.70" y1="370.30" x2="354.70" y2="373.80" stroke="#000" stroke-width="0.8"/>
<text transform="translate(354.70,385.05) scale(0.96,1.0)" text-anchor="middle" font-size="10" fill="#000">4250</text>
<line x1="411.10" y1="370.30" x2="411.10" y2="373.80" stroke="#000" stroke-width="0.8"/>
<text transform="translate(411.10,385.05) scale(0.96,1.0)" text-anchor="middle" font-size="10" fill="#000">4500</text>
<line x1="467.50" y1="370.30" x2="467.50" y2="373.80" stroke="#000" stroke-width="0.8"/>
<text transform="translate(467.50,385.05) scale(0.96,1.0)" text-anchor="middle" font-size="10" fill="#000">4750</text>
<line x1="523.90" y1="370.30" x2="523.90" y2="373.80" stroke="#000" stroke-width="0.8"/>
<text transform="translate(523.90,385.05) scale(0.96,1.0)" text-anchor="middle" font-size="10" fill="#000">5000</text>
<text transform="translate(296.50,401.30)" text-anchor="middle" font-size="11.3" fill="#000">Iteration</text>
<text transform="translate(13.50,300.65) rotate(-90)" text-anchor="middle" font-size="11.3" fill="#000">MMD</text>
<text transform="translate(301.10,219.30) scale(1.0,0.95)" text-anchor="middle" font-size="15" fill="#000">AdaptSH</text>
<rect x="51.05" y="22.50" width="493.65" height="144.95" fill="none" stroke="#000" stroke-width="0.8"/>
<rect x="51.05" y="226.20" width="493.65" height="144.10" fill="none" stroke="#000" stroke-width="0.8"/></g></svg></body></html>
